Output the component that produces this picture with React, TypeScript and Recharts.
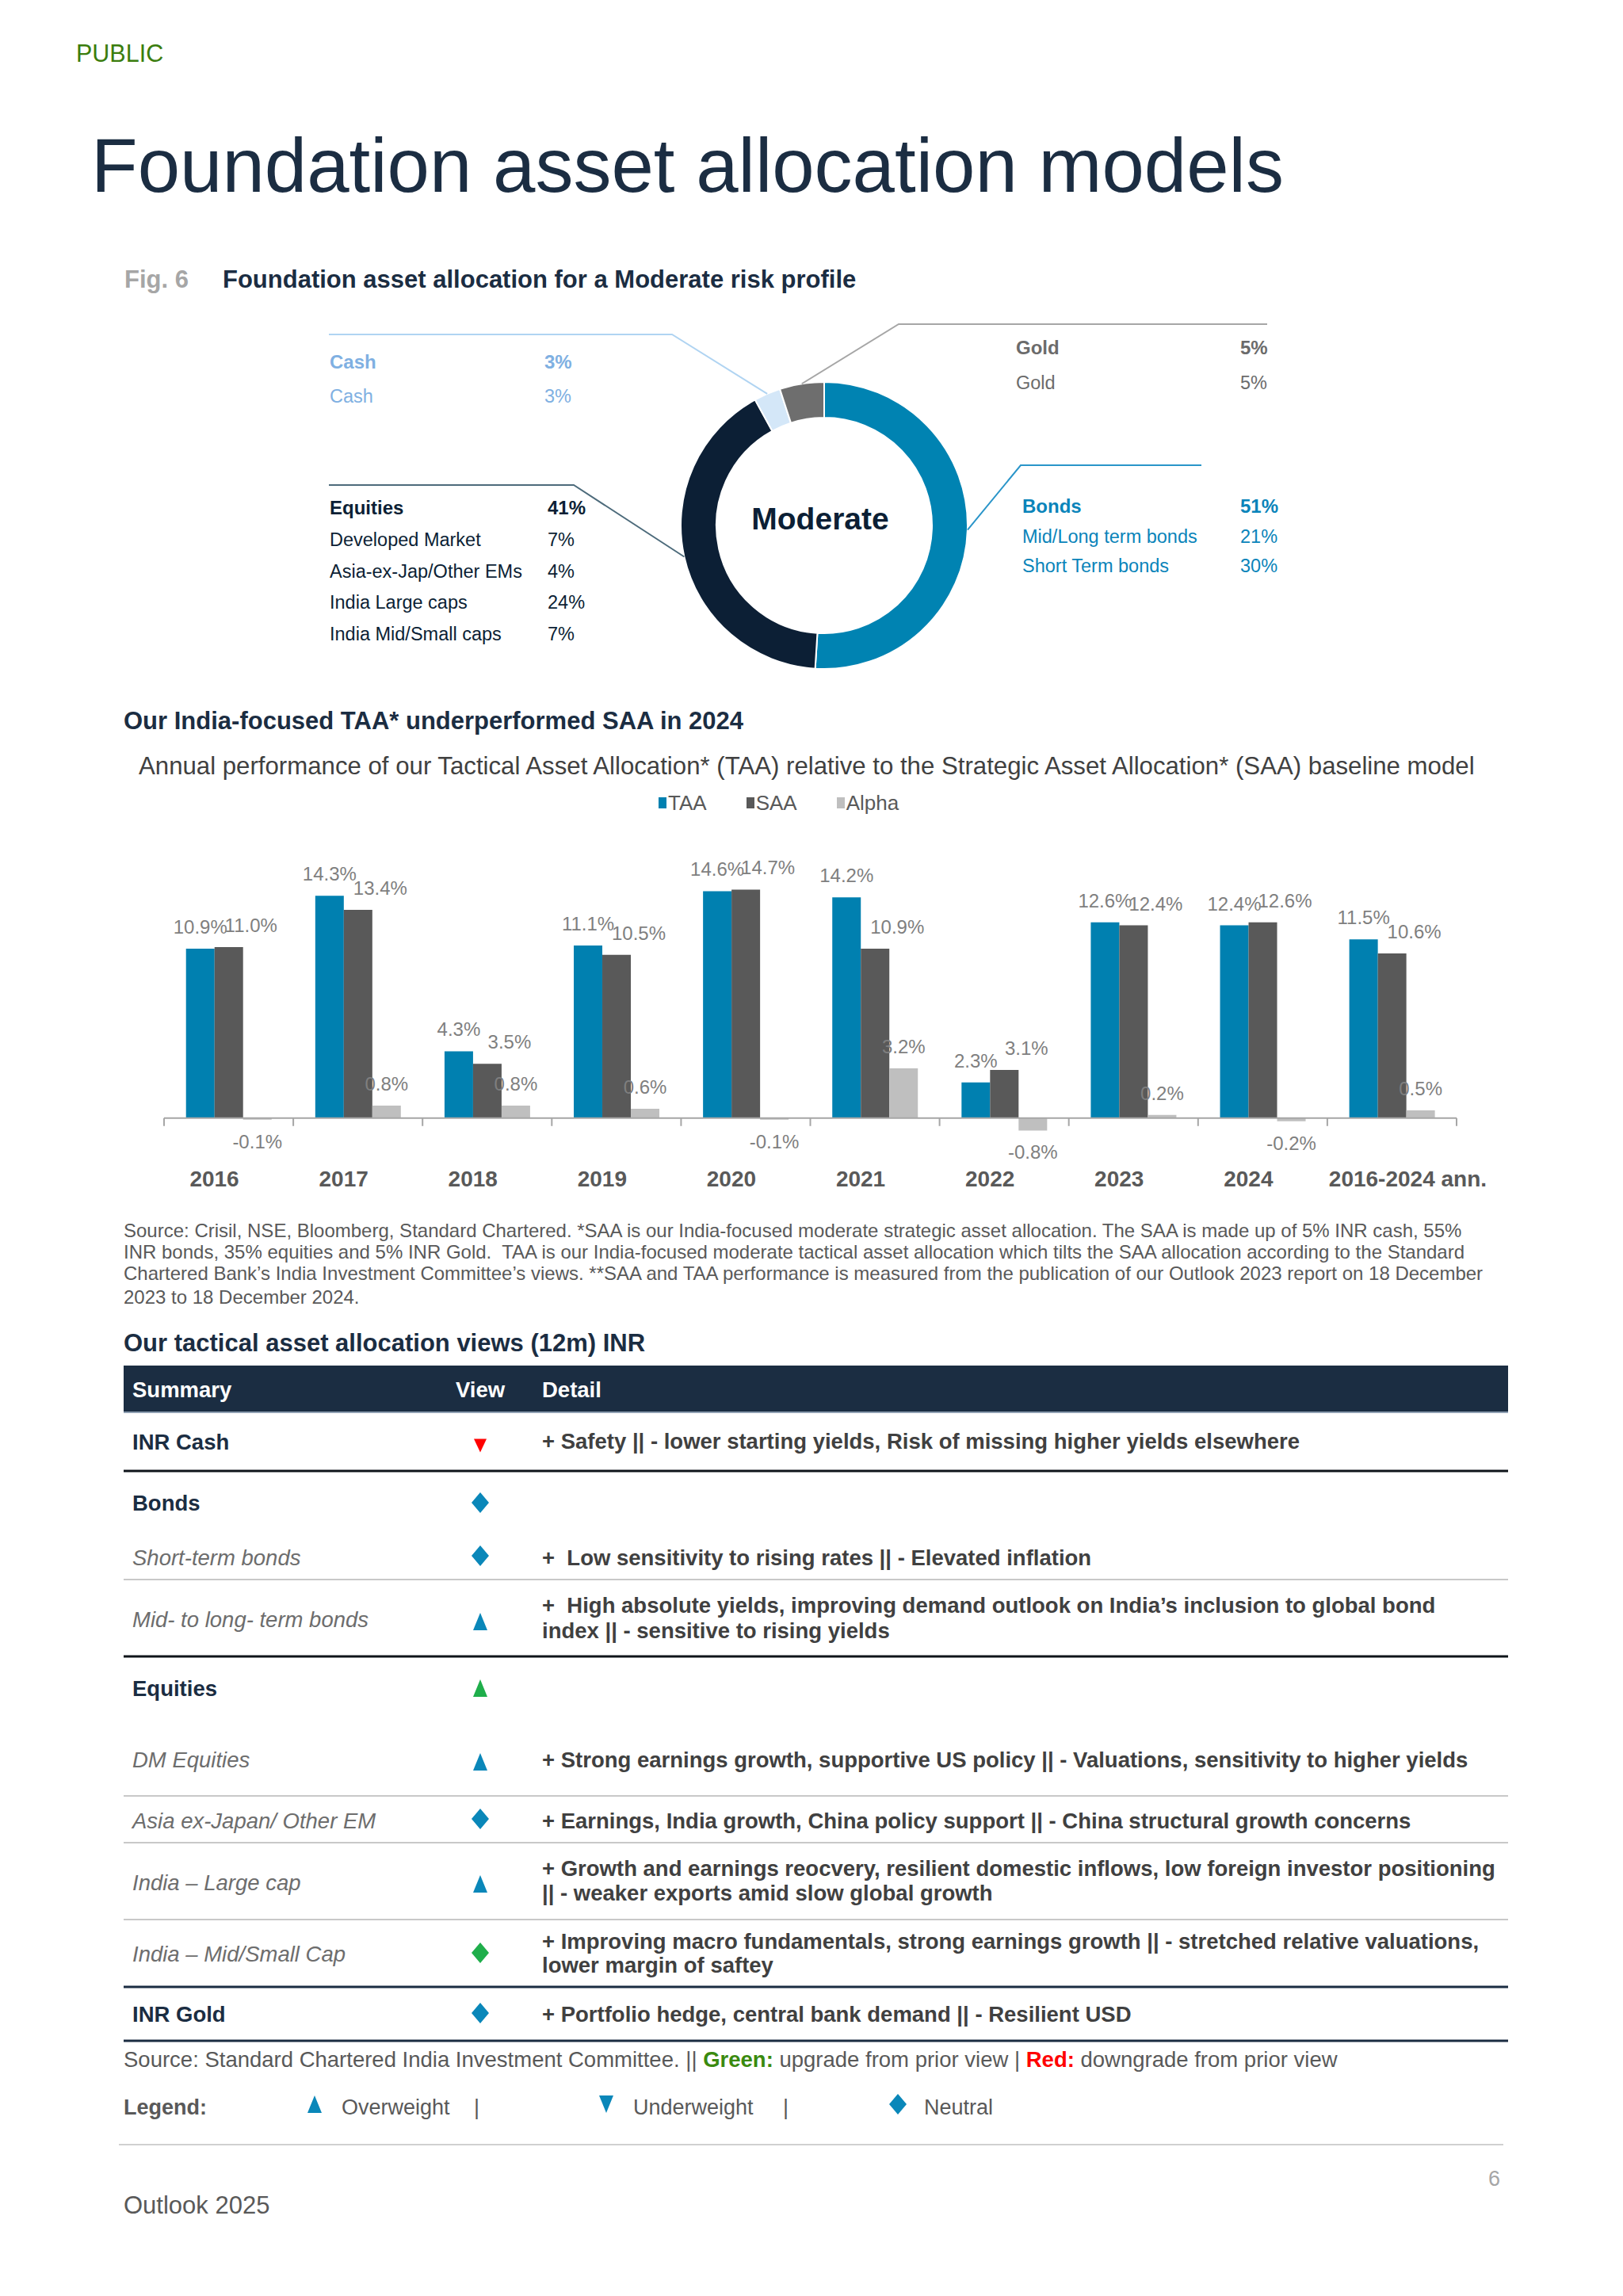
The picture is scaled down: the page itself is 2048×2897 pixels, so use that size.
import React from 'react';
import { PieChart, Pie, Cell, Label, BarChart, Bar, XAxis, YAxis, ReferenceLine, LabelList, Legend } from 'recharts';

const FONT = '"Liberation Sans", Arial, Helvetica, sans-serif';
const NAVY = '#1b2d42';
const BLUE = '#0a87b9';
const GREEN = '#1fae4b';
const RED = '#ff0000';

// ---------------- Donut data ----------------
const allocationNames = ['Bonds', 'Equities', 'Cash', 'Gold'];
const allocationValues = [51, 41, 3, 5];
const allocationColors = ['#0083b2', '#0c1f35', '#d4e7f8', '#6e6e6e'];

const bondsItems = ['Mid/Long term bonds', 'Short Term bonds'];
const bondsItemValues = [21, 30];
const equitiesItems = ['Developed Market', 'Asia-ex-Jap/Other EMs', 'India Large caps', 'India Mid/Small caps'];
const equitiesItemValues = [7, 4, 24, 7];
const cashItems = ['Cash'];
const cashItemValues = [3];
const goldItems = ['Gold'];
const goldItemValues = [5];
const centerLabel = 'Moderate';

// ---------------- Bar data ----------------
const periods = ['2016', '2017', '2018', '2019', '2020', '2021', '2022', '2023', '2024', '2016-2024 ann.'];
const taaReturns = [10.9, 14.3, 4.3, 11.1, 14.6, 14.2, 2.3, 12.6, 12.4, 11.5];
const saaReturns = [11.0, 13.4, 3.5, 10.5, 14.7, 10.9, 3.1, 12.4, 12.6, 10.6];
const alphaReturns = [-0.1, 0.8, 0.8, 0.6, -0.1, 3.2, -0.8, 0.2, -0.2, 0.5];
const seriesNames = ['TAA', 'SAA', 'Alpha'];
const seriesColors = ['#0080b0', '#595959', '#bfbfbf'];

// ---------------- Table data ----------------
const tableColumns = ['Summary', 'View', 'Detail'];
const rowSummaries = [
  'INR Cash', 'Bonds', 'Short-term bonds', 'Mid- to long- term bonds', 'Equities',
  'DM Equities', 'Asia ex-Japan/ Other EM', 'India – Large cap', 'India – Mid/Small Cap', 'INR Gold',
];
const rowLevels = ['asset', 'asset', 'sub', 'sub', 'asset', 'sub', 'sub', 'sub', 'sub', 'asset'];
const rowViews = ['Underweight', 'Neutral', 'Neutral', 'Overweight', 'Overweight', 'Overweight', 'Neutral', 'Overweight', 'Neutral', 'Neutral'];
const rowChanges = ['down', 'none', 'none', 'none', 'up', 'none', 'none', 'none', 'up', 'none'];
const rowDetails = [
  ['+ Safety || - lower starting yields, Risk of missing higher yields elsewhere'],
  [],
  ['+  Low sensitivity to rising rates || - Elevated inflation'],
  ['+  High absolute yields, improving demand outlook on India’s inclusion to global bond', 'index || - sensitive to rising yields'],
  [],
  ['+ Strong earnings growth, supportive US policy || - Valuations, sensitivity to higher yields'],
  ['+ Earnings, India growth, China policy support || - China structural growth concerns'],
  ['+ Growth and earnings reocvery, resilient domestic inflows, low foreign investor positioning', '|| - weaker exports amid slow global growth'],
  ['+ Improving macro fundamentals, strong earnings growth || - stretched relative valuations,', 'lower margin of saftey'],
  ['+ Portfolio hedge, central bank demand || - Resilient USD'],
];
const legendViews = ['Overweight', 'Underweight', 'Neutral'];

const sourceLines = [
  'Source: Crisil, NSE, Bloomberg, Standard Chartered. *SAA is our India-focused moderate strategic asset allocation. The SAA is made up of 5% INR cash, 55%',
  'INR bonds, 35% equities and 5% INR Gold.  TAA is our India-focused moderate tactical asset allocation which tilts the SAA allocation according to the Standard',
  'Chartered Bank’s India Investment Committee’s views. **SAA and TAA performance is measured from the publication of our Outlook 2023 report on 18 December',
  '2023 to 18 December 2024.',
];

// ---------------- Layout (page pixels) ----------------
const PIE_BOX = { left: 380, top: 380, width: 1300, height: 500 };
const PIE_CX = 655;
const PIE_CY = 278;
const pieLabelLayout: Record<string, any> = {
  Bonds: { elbow: [1288, 587], end: [1516, 587], textX: 1290, pctX: 1565, baseline: 647, step: 37.5, color: '#0a84ba', line: '#2a95c9' },
  Equities: { elbow: [724, 612], end: [415, 612], textX: 416, pctX: 691, baseline: 649, step: 39.8, color: '#0c1f35', line: '#4d6b7b' },
  Cash: { elbow: [848, 422], end: [415, 422], textX: 416, pctX: 687, baseline: 465, step: 43, color: '#7fb0e2', line: '#b0d4f2' },
  Gold: { elbow: [1134, 409], end: [1599, 409], textX: 1282, pctX: 1565, baseline: 447, step: 44, color: '#6b6b6b', line: '#a6a6a6' },
};
const breakdowns: Record<string, [string[], number[]]> = {
  Bonds: [bondsItems, bondsItemValues],
  Equities: [equitiesItems, equitiesItemValues],
  Cash: [cashItems, cashItemValues],
  Gold: [goldItems, goldItemValues],
};

const BAR_BOX = { left: 150, top: 990, width: 1750, height: 560 };
const BAR_MARGIN = { top: 107, right: 62, bottom: 20, left: 57 };
const X_AXIS_HEIGHT = 80;
const Y_MIN = -2;
const Y_MAX = 16;
const PLOT_W = BAR_BOX.width - BAR_MARGIN.left - BAR_MARGIN.right;
const PLOT_H = BAR_BOX.height - BAR_MARGIN.top - BAR_MARGIN.bottom - X_AXIS_HEIGHT;

const TABLE_LEFT = 156;
const TABLE_RIGHT = 1903;
const TABLE_FONT = 27.5;
const summaryBaselines = [1829, 1906, 1975, 2053, 2140, 2230, 2307, 2385, 2475, 2551];
const detailBaselines = [[1828], [], [1975], [2035, 2067], [], [2230], [2307], [2367, 2398], [2459, 2489], [2551]];
const iconCenters = [1824, 1896, 1963, 2046, 2130, 2223, 2295, 2377, 2464, 2540];
const separators: [number, string][] = [
  [1856, 'thickDark'], [1993, 'thin'], [2090, 'thickDark'], [2266, 'thin'], [2325, 'thin'], [2422, 'thin'], [2507, 'thickNavy'], [2575, 'thickNavy'],
];

// ---------------- Helpers ----------------
function ViewIcon({ kind, color, cx, cy, small }: { kind: string; color: string; cx: number; cy: number; small?: boolean }) {
  if (kind === 'Overweight') {
    return <polygon points={`${cx},${cy - 11} ${cx + 9},${cy + 11} ${cx - 9},${cy + 11}`} fill={color} />;
  }
  if (kind === 'Underweight') {
    const hw = small ? 8 : 9;
    const hh = small ? 8.5 : 11;
    return <polygon points={`${cx - hw},${cy - hh} ${cx + hw},${cy - hh} ${cx},${cy + hh}`} fill={color} />;
  }
  return <polygon points={`${cx},${cy - 13} ${cx + 11},${cy} ${cx},${cy + 13} ${cx - 11},${cy}`} fill={color} />;
}

function iconColor(i: number) {
  if (rowChanges[i] === 'down') return RED;
  if (rowChanges[i] === 'up') return GREEN;
  return BLUE;
}

const renderPieLabel = (props: any) => {
  const { cx, cy, midAngle, outerRadius, index } = props;
  const name = allocationNames[index];
  const L = pieLabelLayout[name];
  if (!L) return null;
  const RAD = Math.PI / 180;
  const sx = cx + outerRadius * Math.cos(-midAngle * RAD);
  const sy = cy + outerRadius * Math.sin(-midAngle * RAD);
  const ox = PIE_BOX.left;
  const oy = PIE_BOX.top;
  const [items, vals] = breakdowns[name];
  return (
    <g>
      <polyline
        points={`${sx},${sy} ${L.elbow[0] - ox},${L.elbow[1] - oy} ${L.end[0] - ox},${L.end[1] - oy}`}
        fill="none"
        stroke={L.line}
        strokeWidth={2}
      />
      <text x={L.textX - ox} y={L.baseline - oy} fill={L.color} fontSize={24} fontWeight="bold" fontFamily={FONT}>{name}</text>
      <text x={L.pctX - ox} y={L.baseline - oy} fill={L.color} fontSize={24} fontWeight="bold" fontFamily={FONT}>{`${allocationValues[index]}%`}</text>
      {items.map((it, k) => (
        <g key={it}>
          <text x={L.textX - ox} y={L.baseline - oy + (k + 1) * L.step} fill={L.color} fontSize={23.5} fontFamily={FONT}>{it}</text>
          <text x={L.pctX - ox} y={L.baseline - oy + (k + 1) * L.step} fill={L.color} fontSize={23.5} fontFamily={FONT}>{`${vals[k]}%`}</text>
        </g>
      ))}
    </g>
  );
};

const renderCenterLabel = () => (
  <text x={PIE_CX} y={PIE_CY + 10} textAnchor="middle" fill="#0c1f35" fontSize={39} fontWeight="bold" fontFamily={FONT}>
    {centerLabel}
  </text>
);

const makeValueLabel = (dx: number) => (props: any) => {
  const vb = props.viewBox || props;
  const x = Number(vb.x ?? props.x);
  const y = Number(vb.y ?? props.y);
  const w = Number(vb.width ?? props.width);
  const h = Number(vb.height ?? props.height);
  const v = Number(props.value);
  if (!isFinite(v) || !isFinite(x) || !isFinite(y)) return null;
  const top = Math.min(y, y + h);
  const bottom = Math.max(y, y + h);
  const tx = x + w / 2 + dx;
  const ty = v >= 0 ? top - 19 : bottom + 36;
  return (
    <text x={tx} y={ty} textAnchor="middle" fontSize={24} fill="#7f7f7f" fontFamily={FONT}>
      {`${v.toFixed(1)}%`}
    </text>
  );
};

const XTick = (props: any) => {
  const { x, y, payload, index } = props;
  const band = PLOT_W / periods.length;
  const zeroY = y - (0 - Y_MIN) * (PLOT_H / (Y_MAX - Y_MIN));
  const last = index === periods.length - 1;
  return (
    <g>
      <line x1={x - band / 2} x2={x - band / 2} y1={zeroY} y2={zeroY + 10} stroke="#a6a6a6" strokeWidth={2} />
      {last && <line x1={x + band / 2} x2={x + band / 2} y1={zeroY} y2={zeroY + 10} stroke="#a6a6a6" strokeWidth={2} />}
      <text x={x + (last ? 20 : -18)} y={zeroY + 86} textAnchor="middle" fontSize={28} fontWeight="bold" fill="#595959" fontFamily={FONT}>
        {payload.value}
      </text>
    </g>
  );
};

const renderBarLegend = (props: any) => {
  const items = [...(props.payload || [])].sort(
    (a: any, b: any) => seriesNames.indexOf(String(a.value)) - seriesNames.indexOf(String(b.value)),
  );
  return (
    <div style={{ display: 'flex', alignItems: 'center', fontFamily: FONT, fontSize: 26, color: '#595959', whiteSpace: 'nowrap', lineHeight: '30px' }}>
      {items.map((it: any, i: number) => (
        <span key={i} style={{ display: 'inline-flex', alignItems: 'center', marginRight: 50 }}>
          <span style={{ display: 'inline-block', width: 10, height: 14, background: it.color, marginRight: 2 }} />
          {it.value}
        </span>
      ))}
    </div>
  );
};

const barData = periods.map((p, i) => ({
  period: p,
  [seriesNames[0]]: taaReturns[i],
  [seriesNames[1]]: saaReturns[i],
  [seriesNames[2]]: alphaReturns[i],
}));

const pieData = allocationNames.map((n, i) => ({ name: n, value: allocationValues[i] }));

const labelDx = [0, 28, 0];

export default function App() {
  return (
    <div style={{ position: 'absolute', left: 0, top: 0, width: 2048, height: 2897, background: '#fff', overflow: 'hidden' }}>
      <svg width={2048} height={2897} style={{ position: 'absolute', left: 0, top: 0 }} fontFamily={FONT}>
        <text x={96} y={78} fontSize={30.5} fill="#3b7d0e">PUBLIC</text>
        <text x={115} y={242} fontSize={96} fill={NAVY}>Foundation asset allocation models</text>
        <text x={157} y={363} fontSize={31} fontWeight="bold" fill="#a6a6a6">Fig. 6</text>
        <text x={281} y={363} fontSize={31} fontWeight="bold" fill={NAVY}>Foundation asset allocation for a Moderate risk profile</text>

        <text x={156} y={920} fontSize={31} fontWeight="bold" fill={NAVY}>Our India-focused TAA* underperformed SAA in 2024</text>
        <text x={175} y={977} fontSize={31.2} fill="#404040">Annual performance of our Tactical Asset Allocation* (TAA) relative to the Strategic Asset Allocation* (SAA) baseline model</text>

        {sourceLines.map((l, i) => (
          <text key={i} x={156} y={[1561, 1588, 1615, 1645][i]} fontSize={24} fill="#595959" style={{ whiteSpace: 'pre' }}>{l}</text>
        ))}

        <text x={156} y={1705} fontSize={31} fontWeight="bold" fill={NAVY}>Our tactical asset allocation views (12m) INR</text>

        {/* table header */}
        <rect x={TABLE_LEFT} y={1723} width={TABLE_RIGHT - TABLE_LEFT} height={59} fill={NAVY} />
        <rect x={TABLE_LEFT} y={1781} width={TABLE_RIGHT - TABLE_LEFT} height={2} fill="#8fa0b3" />
        {tableColumns.map((c, i) => (
          <text key={c} x={[167, 575, 684][i]} y={1763} fontSize={TABLE_FONT} fontWeight="bold" fill="#ffffff">{c}</text>
        ))}

        {separators.map(([y, kind], i) => (
          <rect
            key={i}
            x={TABLE_LEFT}
            y={kind === 'thin' ? y - 1 : y - 1.5}
            width={TABLE_RIGHT - TABLE_LEFT}
            height={kind === 'thin' ? 2 : 3}
            fill={kind === 'thin' ? '#c8c8c8' : kind === 'thickNavy' ? NAVY : '#0f141a'}
          />
        ))}

        {rowSummaries.map((s, i) => (
          <g key={s}>
            <text
              x={167}
              y={summaryBaselines[i]}
              fontSize={TABLE_FONT}
              fontWeight={rowLevels[i] === 'asset' ? 'bold' : 'normal'}
              fontStyle={rowLevels[i] === 'asset' ? 'normal' : 'italic'}
              fill={rowLevels[i] === 'asset' ? NAVY : '#6d6d6d'}
            >
              {s}
            </text>
            <ViewIcon kind={rowViews[i]} color={iconColor(i)} cx={606} cy={iconCenters[i]} small />
            {rowDetails[i].map((d, k) => (
              <text key={k} x={684} y={detailBaselines[i][k]} fontSize={TABLE_FONT} fontWeight="bold" fill="#404040" style={{ whiteSpace: 'pre' }}>{d}</text>
            ))}
          </g>
        ))}

        <text x={156} y={2608} fontSize={27.5} fill="#595959" style={{ whiteSpace: 'pre' }}>
          <tspan>Source: Standard Chartered India Investment Committee. || </tspan>
          <tspan fontWeight="bold" fill="#3a8a0f">Green:</tspan>
          <tspan> upgrade from prior view | </tspan>
          <tspan fontWeight="bold" fill={RED}>Red:</tspan>
          <tspan> downgrade from prior view</tspan>
        </text>

        <text x={156} y={2668} fontSize={27} fontWeight="bold" fill="#595959">Legend:</text>
        {legendViews.map((v, i) => (
          <g key={v}>
            <ViewIcon kind={v} color={BLUE} cx={[397, 765, 1133][i]} cy={2655} />
            <text x={[431, 799, 1166][i]} y={2668} fontSize={27} fill="#595959">{v}</text>
            {i < 2 && <text x={[598, 988][i]} y={2668} fontSize={27} fill="#595959">|</text>}
          </g>
        ))}

        <rect x={150} y={2705} width={1747} height={2} fill="#d0d0d0" />
        <text x={1893} y={2758} fontSize={27} fill="#a6a6a6" textAnchor="end">6</text>
        <text x={156} y={2793} fontSize={31} fill="#595959">Outlook 2025</text>
      </svg>

      <div style={{ position: 'absolute', left: PIE_BOX.left, top: PIE_BOX.top }}>
        <PieChart width={PIE_BOX.width} height={PIE_BOX.height}>
          <Pie
            data={pieData}
            dataKey="value"
            nameKey="name"
            cx={PIE_CX}
            cy={PIE_CY}
            innerRadius={136}
            outerRadius={181}
            startAngle={90}
            endAngle={-270}
            stroke="#ffffff"
            strokeWidth={2}
            label={renderPieLabel}
            labelLine={false}
            isAnimationActive={false}
          >
            {pieData.map((d, i) => (
              <Cell key={d.name} fill={allocationColors[i]} />
            ))}
            <Label content={renderCenterLabel} />
          </Pie>
        </PieChart>
      </div>

      <div style={{ position: 'absolute', left: BAR_BOX.left, top: BAR_BOX.top }}>
        <BarChart width={BAR_BOX.width} height={BAR_BOX.height} data={barData} margin={BAR_MARGIN} barCategoryGap="17%" barGap={0}>
          <XAxis
            dataKey="period"
            height={X_AXIS_HEIGHT}
            axisLine={false}
            tickLine={false}
            tickSize={0}
            tickMargin={0}
            interval={0}
            tick={(p: any) => <XTick {...p} />}
          />
          <YAxis hide type="number" domain={[Y_MIN, Y_MAX]} allowDataOverflow />
          <Legend
            layout="vertical"
            align="center"
            verticalAlign="middle"
            content={renderBarLegend}
            wrapperStyle={{ top: 8, left: 681, width: 440, height: 30 }}
          />
          {seriesNames.map((s, i) => (
            <Bar key={s} dataKey={s} name={s} fill={seriesColors[i]} isAnimationActive={false}>
              <LabelList dataKey={s} content={makeValueLabel(labelDx[i])} />
            </Bar>
          ))}
          <ReferenceLine y={0} stroke="#a6a6a6" strokeWidth={2} />
        </BarChart>
      </div>
    </div>
  );
}
